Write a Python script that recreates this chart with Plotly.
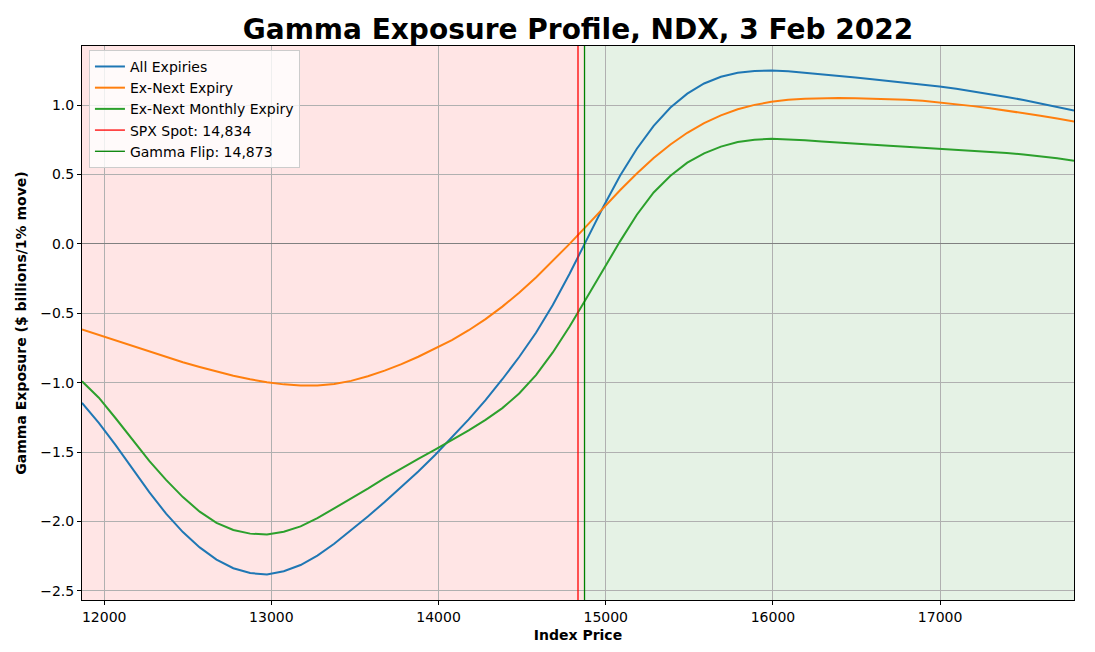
import numpy as np
import plotly.graph_objects as go

# ---- data ----
spot_price = 14834
gamma_flip = 14873
from_strike = 11867.2
to_strike = 17800.8
n_levels = 60
levels = np.linspace(from_strike, to_strike, n_levels)

all_expiries = [
    -1.145, -1.29, -1.45, -1.62, -1.788, -1.943, -2.076, -2.186, -2.274, -2.336,
    -2.371, -2.381, -2.358, -2.313, -2.245, -2.16, -2.065, -1.964, -1.859, -1.751,
    -1.639, -1.521, -1.396, -1.264, -1.125, -0.975, -0.815, -0.64, -0.44, -0.215,
    0.025, 0.265, 0.49, 0.685, 0.85, 0.982, 1.082, 1.155, 1.203, 1.232,
    1.245, 1.248, 1.243, 1.233, 1.222, 1.21, 1.198, 1.186, 1.174, 1.161,
    1.148, 1.134, 1.117, 1.099, 1.079, 1.058, 1.036, 1.012, 0.987, 0.961,
]
ex_next = [
    -0.617, -0.656, -0.697, -0.737, -0.778, -0.817, -0.853, -0.887, -0.92, -0.95,
    -0.975, -0.997, -1.012, -1.02, -1.021, -1.01, -0.987, -0.953, -0.913, -0.866,
    -0.813, -0.755, -0.693, -0.622, -0.542, -0.452, -0.352, -0.242, -0.124, 0.0,
    0.128, 0.258, 0.386, 0.507, 0.618, 0.716, 0.80, 0.869, 0.925, 0.969,
    1.001, 1.023, 1.037, 1.045, 1.049, 1.05, 1.049, 1.047, 1.044, 1.038,
    1.03, 1.019, 1.006, 0.992, 0.977, 0.96, 0.942, 0.923, 0.903, 0.882,
]
ex_next_monthly = [
    -0.99, -1.108, -1.256, -1.413, -1.563, -1.70, -1.824, -1.929, -2.009, -2.061,
    -2.087, -2.093, -2.073, -2.035, -1.975, -1.905, -1.835, -1.763, -1.688, -1.617,
    -1.548, -1.482, -1.413, -1.343, -1.268, -1.183, -1.078, -0.945, -0.782, -0.595,
    -0.392, -0.185, 0.018, 0.21, 0.37, 0.49, 0.585, 0.652, 0.70, 0.733,
    0.75, 0.757, 0.754, 0.746, 0.737, 0.728, 0.72, 0.713, 0.706, 0.699,
    0.692, 0.686, 0.679, 0.672, 0.664, 0.655, 0.644, 0.631, 0.616, 0.599,
]
y_min, y_max = -2.565, 1.425
x_ticks = [12000, 13000, 14000, 15000, 16000, 17000]
y_ticks = [1.0, 0.5, 0.0, -0.5, -1.0, -1.5, -2.0, -2.5]

FONT = "DejaVu Sans"
FS = 14

fig = go.Figure()

series = [
    ("All Expiries", all_expiries, "#1f77b4"),
    ("Ex-Next Expiry", ex_next, "#ff7f0e"),
    ("Ex-Next Monthly Expiry", ex_next_monthly, "#2ca02c"),
]
for name, vals, col in series:
    fig.add_trace(go.Scatter(x=levels, y=vals, mode="lines", name=name,
                             line=dict(color=col, width=2)))

# legend entries for the vertical lines
fig.add_trace(go.Scatter(x=[None], y=[None], mode="lines",
                         name=f"SPX Spot: {spot_price:,.0f}",
                         line=dict(color="#ff0000", width=1.3)))
fig.add_trace(go.Scatter(x=[None], y=[None], mode="lines",
                         name=f"Gamma Flip: {gamma_flip:,.0f}",
                         line=dict(color="#008000", width=1.3)))

# shaded regions
fig.add_shape(type="rect", xref="x", yref="paper", x0=from_strike, x1=gamma_flip,
              y0=0, y1=1, fillcolor="rgba(255,0,0,0.1)", line_width=0, layer="below")
fig.add_shape(type="rect", xref="x", yref="paper", x0=gamma_flip, x1=to_strike,
              y0=0, y1=1, fillcolor="rgba(0,128,0,0.1)", line_width=0, layer="below")
# vertical lines
fig.add_shape(type="line", xref="x", yref="paper", x0=spot_price, x1=spot_price,
              y0=0, y1=1, line=dict(color="#ff0000", width=1.3))
fig.add_shape(type="line", xref="x", yref="paper", x0=gamma_flip, x1=gamma_flip,
              y0=0, y1=1, line=dict(color="#008000", width=1.3))

W, H = 1087, 644
fig.update_layout(
    width=W, height=H,
    margin=dict(l=74, r=21, t=38, b=52),
    paper_bgcolor="white", plot_bgcolor="white",
    font=dict(family=FONT, size=FS, color="black"),
    title=dict(text="<b>Gamma Exposure Profile, NDX, 3 Feb 2022</b>",
               font=dict(family=FONT, size=28, color="black"),
               x=570 / W, xanchor="center", xref="container",
               y=1 - 21 / H, yanchor="middle", yref="container"),
    legend=dict(x=0.007, y=0.993, xanchor="left", yanchor="top",
                bgcolor="rgba(255,255,255,0.8)", bordercolor="#cccccc", borderwidth=1,
                font=dict(family=FONT, size=FS), tracegroupgap=0),
    showlegend=True,
)
fig.update_xaxes(
    range=[from_strike, to_strike], tickvals=x_ticks, tickformat="d",
    showgrid=True, gridcolor="#b0b0b0", gridwidth=1,
    showline=True, linecolor="black", linewidth=1, mirror=True,
    ticks="outside", ticklen=4, tickcolor="black",
    zeroline=False,
    title=dict(text="<b>Index Price</b>", font=dict(family=FONT, size=FS), standoff=6),
)
fig.update_yaxes(
    range=[y_min, y_max], tickvals=y_ticks, tickformat=".1f",
    showgrid=True, gridcolor="#b0b0b0", gridwidth=1,
    showline=True, linecolor="black", linewidth=1, mirror=True,
    ticks="outside", ticklen=4, tickcolor="black",
    zeroline=True, zerolinecolor="#808080", zerolinewidth=1.3,
    title=dict(text="<b>Gamma Exposure ($ billions/1% move)</b>",
               font=dict(family=FONT, size=FS), standoff=10),
)

fig.write_html("out.html")
